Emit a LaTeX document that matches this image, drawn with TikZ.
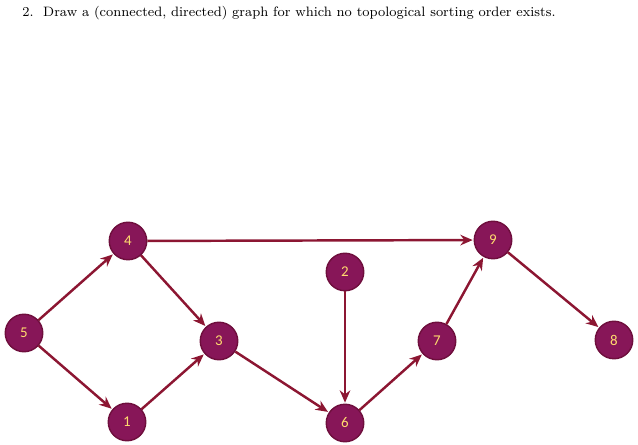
\documentclass[tikz,border=0pt]{standalone}
\usepackage{fontspec}
\newfontfamily\nodefont{Carlito}
\usetikzlibrary{shapes,arrows.meta}
\definecolor{vfill}{RGB}{135,22,88}
\definecolor{vline}{RGB}{110,14,60}
\definecolor{eline}{RGB}{140,22,50}
\definecolor{vtext}{RGB}{255,220,110}
\begin{document}
\begin{tikzpicture}[x=0.02cm,y=-0.02cm,
  vert/.style={shape=circle,draw=vline,fill=vfill,text=vtext,align=center,line width=0.8pt,minimum size=0.75cm,inner sep=0pt,font=\nodefont\fontsize{8.5}{10}\selectfont},
  arc/.style={-{Stealth[length=7pt,width=6pt]},draw=eline,line width=1.4pt,shorten >=0.5pt}]
\useasboundingbox (0,0) rectangle (638,445);
\node[anchor=west,inner sep=0pt,font=\fontsize{7.75}{9}\selectfont] (q) at (22,13) {2.\ \ Draw a (connected, directed) graph for which no topological sorting order exists.};
\node[vert] (4) at (128,241) {4};
\node[vert] (9) at (493,240) {9};
\node[vert] (2) at (345,272) {2};
\node[vert] (5) at (24,333) {5};
\node[vert] (3) at (219,341) {3};
\node[vert] (7) at (437,341) {7};
\node[vert] (8) at (614,340) {8};
\node[vert] (1) at (127,422) {1};
\node[vert] (6) at (345,423) {6};

\path [arc] (5) edge node {} (4);
\path [arc] (5) edge node {} (1);
\path [arc] (4) edge node {} (3);
\path [arc] (1) edge node {} (3);
\path [arc] (4) edge node {} (9);
\path [arc] (3) edge node {} (6);
\path [arc] (2) edge node {} (6);
\path [arc] (6) edge node {} (7);
\path [arc] (7) edge node {} (9);
\path [arc] (9) edge node {} (8);
\end{tikzpicture}
\end{document}
